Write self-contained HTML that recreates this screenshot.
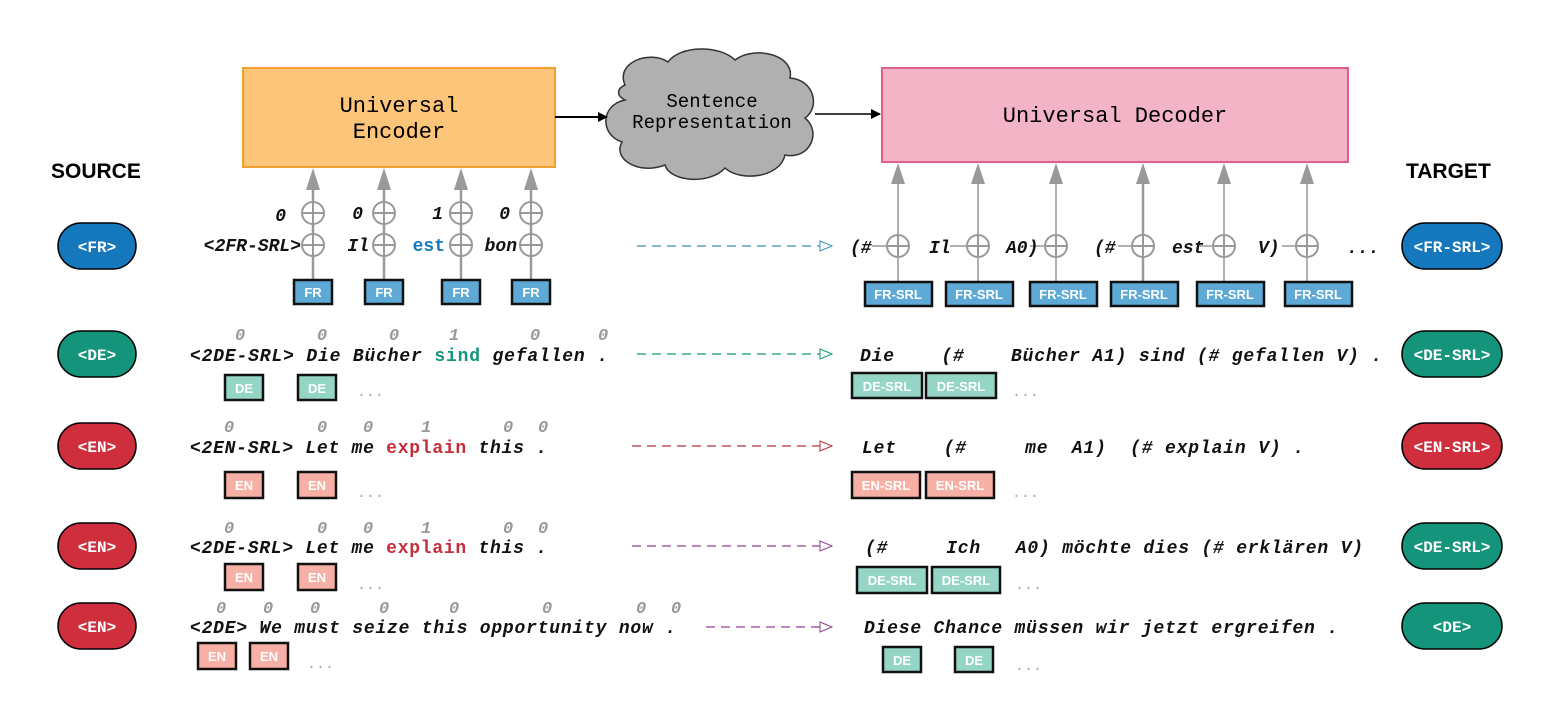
<!DOCTYPE html>
<html><head><meta charset="utf-8"><style>
html,body{margin:0;padding:0;background:#fff;}
svg{display:block;}
text{white-space:pre;}
.t{font-family:"Liberation Mono",monospace;font-weight:bold;font-style:italic;font-size:18px;fill:#111;}
.z{font-family:"Liberation Mono",monospace;font-style:italic;font-size:17px;fill:#999;font-weight:bold;}
.b{font-family:"Liberation Sans",sans-serif;font-weight:bold;font-size:13px;fill:#fff;}
.p{font-family:"Liberation Mono",monospace;font-weight:bold;font-size:16px;fill:#fff;}
.h{font-family:"Liberation Sans",sans-serif;font-weight:bold;font-size:21px;fill:#000;}
.d{font-family:"Liberation Mono",monospace;font-size:15px;fill:#aaa;}
</style></head><body>
<svg width="1565" height="728" viewBox="0 0 1565 728" xmlns="http://www.w3.org/2000/svg">
<defs>
<marker id="ah" markerWidth="10" markerHeight="10" refX="9" refY="5" orient="auto" markerUnits="userSpaceOnUse"><path d="M0,0 L10,5 L0,10z" fill="#000"/></marker>
<marker id="oh" markerWidth="14" markerHeight="12" refX="13" refY="6" orient="auto" markerUnits="userSpaceOnUse"><path d="M1,1 L13,6 L1,11z" fill="#fff" stroke="context-stroke" stroke-width="1"/></marker>
<g id="cp"><circle r="11" fill="#fff" stroke="#999" stroke-width="2"/><path d="M-11,0H11M0,-11V11" stroke="#999" stroke-width="2"/></g>
</defs>
<rect x="243" y="68" width="312" height="99" fill="#fdc57a" stroke="#f0a030" stroke-width="2"/>
<text x="399" y="112" text-anchor="middle" style="font-family:'Liberation Mono',monospace;font-size:22px">Universal</text>
<text x="399" y="138" text-anchor="middle" style="font-family:'Liberation Mono',monospace;font-size:22px">Encoder</text>
<path d="M625,85 C615,62 650,50 668,62 C680,45 720,45 735,60 C755,45 795,55 790,78 C815,80 820,108 805,118 C822,132 810,160 785,155 C780,178 740,182 725,168 C710,185 670,182 665,165 C640,175 612,160 622,142 C600,135 600,105 625,100 C615,95 618,88 625,85z" fill="#b0b0b0" stroke="#333" stroke-width="1.5"/>
<text x="712" y="107" text-anchor="middle" style="font-family:'Liberation Mono',monospace;font-size:19px">Sentence</text>
<text x="712" y="128" text-anchor="middle" style="font-family:'Liberation Mono',monospace;font-size:19px">Representation</text>
<line x1="555" y1="117" x2="607" y2="117" stroke="#000" stroke-width="2" marker-end="url(#ah)"/>
<line x1="815" y1="114" x2="880" y2="114" stroke="#000" stroke-width="1.5" marker-end="url(#ah)"/>
<rect x="882" y="68" width="466" height="94" fill="#f4b4c8" stroke="#e06088" stroke-width="2"/>
<text x="1115" y="122" text-anchor="middle" style="font-family:'Liberation Mono',monospace;font-size:22px">Universal Decoder</text>
<text class="h" x="51" y="178">SOURCE</text>
<text class="h" x="1406" y="178">TARGET</text>
<g class="p" text-anchor="middle">
<rect x="58" y="223" width="78" height="46" rx="23" fill="#1577bc" stroke="#000" stroke-width="1.5"/><text x="97" y="252">&lt;FR&gt;</text>
<rect x="58" y="331" width="78" height="46" rx="23" fill="#14947a" stroke="#000" stroke-width="1.5"/><text x="97" y="360">&lt;DE&gt;</text>
<rect x="58" y="423" width="78" height="46" rx="23" fill="#cf2e3d" stroke="#000" stroke-width="1.5"/><text x="97" y="452">&lt;EN&gt;</text>
<rect x="58" y="523" width="78" height="46" rx="23" fill="#cf2e3d" stroke="#000" stroke-width="1.5"/><text x="97" y="552">&lt;EN&gt;</text>
<rect x="58" y="603" width="78" height="46" rx="23" fill="#cf2e3d" stroke="#000" stroke-width="1.5"/><text x="97" y="632">&lt;EN&gt;</text>
<rect x="1402" y="223" width="100" height="46" rx="23" fill="#1577bc" stroke="#000" stroke-width="1.5"/><text x="1452" y="252">&lt;FR-SRL&gt;</text>
<rect x="1402" y="331" width="100" height="46" rx="23" fill="#14947a" stroke="#000" stroke-width="1.5"/><text x="1452" y="360">&lt;DE-SRL&gt;</text>
<rect x="1402" y="423" width="100" height="46" rx="23" fill="#cf2e3d" stroke="#000" stroke-width="1.5"/><text x="1452" y="452">&lt;EN-SRL&gt;</text>
<rect x="1402" y="523" width="100" height="46" rx="23" fill="#14947a" stroke="#000" stroke-width="1.5"/><text x="1452" y="552">&lt;DE-SRL&gt;</text>
<rect x="1402" y="603" width="100" height="46" rx="23" fill="#14947a" stroke="#000" stroke-width="1.5"/><text x="1452" y="632">&lt;DE&gt;</text>
</g>
<g stroke="#999" stroke-width="2.5" fill="#999">
<line x1="313" y1="282" x2="313" y2="186"/><path d="M306,190 L313,168 L320,190z" stroke="none"/>
<line x1="384" y1="282" x2="384" y2="186"/><path d="M377,190 L384,168 L391,190z" stroke="none"/>
<line x1="461" y1="282" x2="461" y2="186"/><path d="M454,190 L461,168 L468,190z" stroke="none"/>
<line x1="531" y1="282" x2="531" y2="186"/><path d="M524,190 L531,168 L538,190z" stroke="none"/>
</g>
<use href="#cp" x="313" y="213"/><use href="#cp" x="313" y="245"/>
<use href="#cp" x="384" y="213"/><use href="#cp" x="384" y="245"/>
<use href="#cp" x="461" y="213"/><use href="#cp" x="461" y="245"/>
<use href="#cp" x="531" y="213"/><use href="#cp" x="531" y="245"/>
<g class="t">
<text x="286" y="221" text-anchor="end">0</text><text x="363" y="219" text-anchor="end">0</text><text x="443" y="219" text-anchor="end">1</text><text x="510" y="219" text-anchor="end">0</text>
<text x="301" y="251" text-anchor="end">&lt;2FR-SRL&gt;</text>
<text x="369" y="251" text-anchor="end">Il</text>
<text x="445" y="251" text-anchor="end" style="fill:#1577bc;font-style:normal">est</text>
<text x="517" y="251" text-anchor="end">bon</text>
</g>
<g class="b" text-anchor="middle">
<rect x="294" y="280" width="38" height="24" fill="#5ea9d6" stroke="#111" stroke-width="2.5"/><text x="313" y="297">FR</text>
<rect x="365" y="280" width="38" height="24" fill="#5ea9d6" stroke="#111" stroke-width="2.5"/><text x="384" y="297">FR</text>
<rect x="442" y="280" width="38" height="24" fill="#5ea9d6" stroke="#111" stroke-width="2.5"/><text x="461" y="297">FR</text>
<rect x="512" y="280" width="38" height="24" fill="#5ea9d6" stroke="#111" stroke-width="2.5"/><text x="531" y="297">FR</text>
</g>
<g stroke="#999" stroke-width="1.5" fill="#999">
<line x1="898" y1="282" x2="898" y2="180"/><path d="M891,184 L898,163 L905,184z" stroke="none"/>
<line x1="978" y1="282" x2="978" y2="180"/><path d="M971,184 L978,163 L985,184z" stroke="none"/>
<line x1="1056" y1="282" x2="1056" y2="180"/><path d="M1049,184 L1056,163 L1063,184z" stroke="none"/>
<line x1="1143" y1="282" x2="1143" y2="180" stroke-width="2.5"/><path d="M1136,184 L1143,163 L1150,184z" stroke="none"/>
<line x1="1224" y1="282" x2="1224" y2="180"/><path d="M1217,184 L1224,163 L1231,184z" stroke="none"/>
<line x1="1307" y1="282" x2="1307" y2="180"/><path d="M1300,184 L1307,163 L1314,184z" stroke="none"/>
<path d="M872,246H887M950,246H967M1030,246H1045M1118,246H1132M1200,246H1213M1282,246H1296" fill="none"/>
</g>
<use href="#cp" x="898" y="246"/><use href="#cp" x="978" y="246"/><use href="#cp" x="1056" y="246"/><use href="#cp" x="1143" y="246"/><use href="#cp" x="1224" y="246"/><use href="#cp" x="1307" y="246"/>
<g class="t">
<text x="850" y="253">(#</text><text x="929" y="253">Il</text><text x="1006" y="253">A0)</text><text x="1094" y="253">(#</text><text x="1172" y="253">est</text><text x="1258" y="253">V)</text><text x="1347" y="253">...</text>
</g>
<g class="b" text-anchor="middle">
<rect x="865" y="282" width="67" height="24" fill="#5ea9d6" stroke="#111" stroke-width="2.5"/><text x="898" y="299">FR-SRL</text>
<rect x="946" y="282" width="67" height="24" fill="#5ea9d6" stroke="#111" stroke-width="2.5"/><text x="979" y="299">FR-SRL</text>
<rect x="1030" y="282" width="67" height="24" fill="#5ea9d6" stroke="#111" stroke-width="2.5"/><text x="1063" y="299">FR-SRL</text>
<rect x="1111" y="282" width="67" height="24" fill="#5ea9d6" stroke="#111" stroke-width="2.5"/><text x="1144" y="299">FR-SRL</text>
<rect x="1197" y="282" width="67" height="24" fill="#5ea9d6" stroke="#111" stroke-width="2.5"/><text x="1230" y="299">FR-SRL</text>
<rect x="1285" y="282" width="67" height="24" fill="#5ea9d6" stroke="#111" stroke-width="2.5"/><text x="1318" y="299">FR-SRL</text>
</g>
<g fill="none" stroke-width="1.2" stroke-dasharray="9,6">
<line x1="637" y1="246" x2="832" y2="246" stroke="#3a8fb8" marker-end="url(#oh)"/>
<line x1="637" y1="354" x2="832" y2="354" stroke="#14947a" marker-end="url(#oh)"/>
<line x1="632" y1="446" x2="832" y2="446" stroke="#b03040" marker-end="url(#oh)"/>
<line x1="632" y1="546" x2="832" y2="546" stroke="#904090" marker-end="url(#oh)"/>
<line x1="706" y1="627" x2="832" y2="627" stroke="#904090" marker-end="url(#oh)"/>
</g>
<g class="z"><text x="235" y="340">0</text><text x="317" y="340">0</text><text x="389" y="340">0</text><text x="449" y="340">1</text><text x="530" y="340">0</text><text x="598" y="340">0</text></g>
<text class="t" x="190" y="361" textLength="418" lengthAdjust="spacing">&lt;2DE-SRL&gt; Die Bücher <tspan style="fill:#14947a;font-style:normal">sind</tspan> gefallen .</text>
<text class="t" x="860" y="361" textLength="522" lengthAdjust="spacing">Die    (#    Bücher A1) sind (# gefallen V) .</text>
<g class="z"><text x="224" y="432">0</text><text x="317" y="432">0</text><text x="363" y="432">0</text><text x="421" y="432">1</text><text x="503" y="432">0</text><text x="538" y="432">0</text></g>
<text class="t" x="190" y="453" textLength="357" lengthAdjust="spacing">&lt;2EN-SRL&gt; Let me <tspan style="fill:#c42e3a;font-style:normal">explain</tspan> this .</text>
<text class="t" x="862" y="453" textLength="442" lengthAdjust="spacing">Let    (#     me  A1)  (# explain V) .</text>
<g class="z"><text x="224" y="533">0</text><text x="317" y="533">0</text><text x="363" y="533">0</text><text x="421" y="533">1</text><text x="503" y="533">0</text><text x="538" y="533">0</text></g>
<text class="t" x="190" y="553" textLength="357" lengthAdjust="spacing">&lt;2DE-SRL&gt; Let me <tspan style="fill:#c42e3a;font-style:normal">explain</tspan> this .</text>
<text class="t" x="865" y="553" textLength="498" lengthAdjust="spacing">(#     Ich   A0) möchte dies (# erklären V)</text>
<g class="z"><text x="216" y="613">0</text><text x="263" y="613">0</text><text x="310" y="613">0</text><text x="379" y="613">0</text><text x="449" y="613">0</text><text x="542" y="613">0</text><text x="636" y="613">0</text><text x="671" y="613">0</text></g>
<text class="t" x="190" y="633" textLength="486" lengthAdjust="spacing">&lt;2DE&gt; We must seize this opportunity now .</text>
<text class="t" x="864" y="633" textLength="474" lengthAdjust="spacing">Diese Chance müssen wir jetzt ergreifen .</text>
<g class="b" text-anchor="middle">
<rect x="225" y="375" width="38" height="25" fill="#95d5c5" stroke="#111" stroke-width="2.5"/><text x="244" y="393">DE</text>
<rect x="298" y="375" width="38" height="25" fill="#95d5c5" stroke="#111" stroke-width="2.5"/><text x="317" y="393">DE</text>
<rect x="852" y="373" width="70" height="25" fill="#95d5c5" stroke="#111" stroke-width="2.5"/><text x="887" y="391">DE-SRL</text>
<rect x="926" y="373" width="70" height="25" fill="#95d5c5" stroke="#111" stroke-width="2.5"/><text x="961" y="391">DE-SRL</text>
<rect x="225" y="472" width="38" height="26" fill="#f7b0a6" stroke="#111" stroke-width="2.5"/><text x="244" y="490">EN</text>
<rect x="298" y="472" width="38" height="26" fill="#f7b0a6" stroke="#111" stroke-width="2.5"/><text x="317" y="490">EN</text>
<rect x="852" y="472" width="68" height="26" fill="#f7b0a6" stroke="#111" stroke-width="2.5"/><text x="886" y="490">EN-SRL</text>
<rect x="926" y="472" width="68" height="26" fill="#f7b0a6" stroke="#111" stroke-width="2.5"/><text x="960" y="490">EN-SRL</text>
<rect x="225" y="564" width="38" height="26" fill="#f7b0a6" stroke="#111" stroke-width="2.5"/><text x="244" y="582">EN</text>
<rect x="298" y="564" width="38" height="26" fill="#f7b0a6" stroke="#111" stroke-width="2.5"/><text x="317" y="582">EN</text>
<rect x="857" y="567" width="70" height="26" fill="#95d5c5" stroke="#111" stroke-width="2.5"/><text x="892" y="585">DE-SRL</text>
<rect x="932" y="567" width="68" height="26" fill="#95d5c5" stroke="#111" stroke-width="2.5"/><text x="966" y="585">DE-SRL</text>
<rect x="198" y="643" width="38" height="26" fill="#f7b0a6" stroke="#111" stroke-width="2.5"/><text x="217" y="661">EN</text>
<rect x="250" y="643" width="38" height="26" fill="#f7b0a6" stroke="#111" stroke-width="2.5"/><text x="269" y="661">EN</text>
<rect x="883" y="647" width="38" height="25" fill="#95d5c5" stroke="#111" stroke-width="2.5"/><text x="902" y="665">DE</text>
<rect x="955" y="647" width="38" height="25" fill="#95d5c5" stroke="#111" stroke-width="2.5"/><text x="974" y="665">DE</text>
</g>
<g class="d">
<text x="357" y="396">...</text><text x="1012" y="396">...</text>
<text x="357" y="497">...</text><text x="1012" y="497">...</text>
<text x="357" y="589">...</text><text x="1015" y="589">...</text>
<text x="307" y="668">...</text><text x="1015" y="670">...</text>
</g>
</svg>
</body></html>
